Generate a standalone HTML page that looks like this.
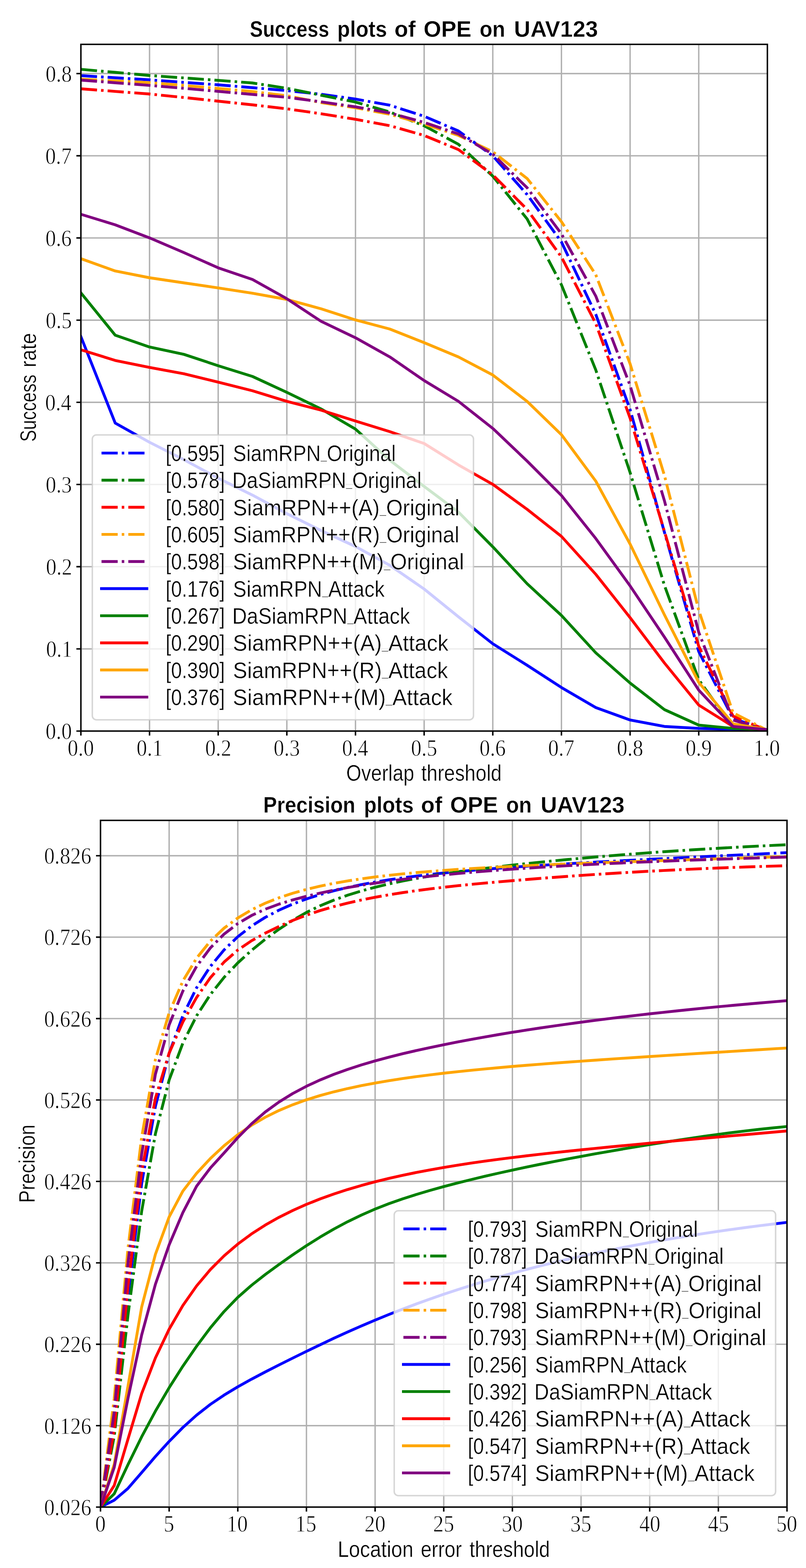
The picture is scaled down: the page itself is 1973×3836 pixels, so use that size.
<!DOCTYPE html>
<html><head><meta charset="utf-8"><title>Success and Precision plots of OPE on UAV123</title><style>html,body{margin:0;padding:0;background:#fff;overflow:hidden}svg{display:block}</style></head>
<body>
<svg width="1973" height="3836" viewBox="0 0 1973 3836">
<rect x="0" y="0" width="1973" height="3836" fill="#ffffff"/>
<defs>
<clipPath id="c0"><rect x="198" y="108.5" width="1680.5" height="1680.0"/></clipPath>
<clipPath id="c1"><rect x="246" y="2007" width="1680.5" height="1680"/></clipPath>
</defs>
<path d="M198 108.5V1788.5M366.05 108.5V1788.5M534.1 108.5V1788.5M702.15 108.5V1788.5M870.2 108.5V1788.5M1038.25 108.5V1788.5M1206.3 108.5V1788.5M1374.35 108.5V1788.5M1542.4 108.5V1788.5M1710.45 108.5V1788.5M1878.5 108.5V1788.5M198 1788.5H1878.5M198 1587.44H1878.5M198 1386.38H1878.5M198 1185.32H1878.5M198 984.26H1878.5M198 783.2H1878.5M198 582.14H1878.5M198 381.08H1878.5M198 180.02H1878.5" stroke="#b0b0b0" stroke-width="3.4" fill="none" clip-path="url(#c0)"/>
<g clip-path="url(#c0)" fill="none" stroke-width="6.9" stroke-linejoin="round">
<polyline points="198,185 282.02,190.2 366.05,195.3 450.07,201.5 534.1,207.5 618.12,214.5 702.15,221.7 786.17,230.5 870.2,242.4 954.23,257.4 1038.25,284.5 1122.28,320.5 1206.3,381.3 1290.33,476 1374.35,592 1458.38,769 1542.4,1002 1626.42,1302 1710.45,1594 1794.47,1758 1878.5,1786" stroke="#0000ff" stroke-dasharray="39.6 9.9 6.2 9.9" stroke-linecap="butt"/>
<polyline points="198,169.6 282.02,177 366.05,184.7 450.07,190.6 534.1,196.6 618.12,203 702.15,216 786.17,233 870.2,249.7 954.23,274 1038.25,307.8 1122.28,353 1206.3,431 1290.33,535.7 1374.35,696.8 1458.38,905 1542.4,1156 1626.42,1432 1710.45,1663 1794.47,1780 1878.5,1787" stroke="#008000" stroke-dasharray="39.6 9.9 6.2 9.9" stroke-linecap="butt"/>
<polyline points="198,217.2 282.02,223.6 366.05,230 450.07,238.5 534.1,247.5 618.12,256.5 702.15,266.2 786.17,278.3 870.2,291.9 954.23,307.5 1038.25,331.4 1122.28,366 1206.3,427.8 1290.33,512.5 1374.35,628.7 1458.38,791.5 1542.4,1023 1626.42,1300 1710.45,1581 1794.47,1752 1878.5,1787" stroke="#ff0000" stroke-dasharray="39.6 9.9 6.2 9.9" stroke-linecap="butt"/>
<polyline points="198,193.8 282.02,198 366.05,202.1 450.07,209 534.1,216.5 618.12,224 702.15,234.2 786.17,251 870.2,263.7 954.23,279.6 1038.25,303.5 1122.28,331.3 1206.3,371.3 1290.33,436.7 1374.35,542.3 1458.38,672.1 1542.4,890 1626.42,1163 1710.45,1493 1794.47,1743.9 1878.5,1787" stroke="#ffa500" stroke-dasharray="39.6 9.9 6.2 9.9" stroke-linecap="butt"/>
<polyline points="198,196 282.02,202.5 366.05,208.9 450.07,216 534.1,223.5 618.12,231 702.15,238 786.17,249.1 870.2,261.4 954.23,276.3 1038.25,299.5 1122.28,327.8 1206.3,377.3 1290.33,459.3 1374.35,572.2 1458.38,724.3 1542.4,943 1626.42,1225 1710.45,1547 1794.47,1761.4 1878.5,1787" stroke="#800080" stroke-dasharray="39.6 9.9 6.2 9.9" stroke-linecap="butt"/>
<polyline points="198,823.4 282.02,1035 366.05,1082 450.07,1124.5 534.1,1169.8 618.12,1211.3 702.15,1256.6 786.17,1298 870.2,1337 954.23,1383 1038.25,1441 1122.28,1509 1206.3,1574.9 1290.33,1627.5 1374.35,1681.9 1458.38,1731.1 1542.4,1761.4 1626.42,1777.2 1710.45,1782 1794.47,1784.2 1878.5,1786.1" stroke="#0000ff" stroke-linecap="square"/>
<polyline points="198,716.4 282.02,820 366.05,848.9 450.07,866.9 534.1,894.7 618.12,921 702.15,959.8 786.17,1000.6 870.2,1049.8 954.23,1126 1038.25,1190 1122.28,1252.8 1206.3,1337.7 1290.33,1428 1374.35,1505.6 1458.38,1597 1542.4,1671 1626.42,1736 1710.45,1774 1794.47,1782 1878.5,1785" stroke="#008000" stroke-linecap="square"/>
<polyline points="198,855.7 282.02,881.8 366.05,898.8 450.07,914.4 534.1,934.8 618.12,956 702.15,981.9 786.17,1003.5 870.2,1030 954.23,1056 1038.25,1085 1122.28,1137.4 1206.3,1184.9 1290.33,1246 1374.35,1312.3 1458.38,1405 1542.4,1511 1626.42,1621.9 1710.45,1724.9 1794.47,1777.2 1878.5,1785" stroke="#ff0000" stroke-linecap="square"/>
<polyline points="198,632.8 282.02,662.9 366.05,679.5 450.07,692 534.1,704.3 618.12,717.3 702.15,732.5 786.17,755.5 870.2,782.7 954.23,805 1038.25,838.3 1122.28,873.2 1206.3,917.4 1290.33,981.9 1374.35,1063.4 1458.38,1177 1542.4,1331 1626.42,1504 1710.45,1669.4 1794.47,1770.9 1878.5,1785" stroke="#ffa500" stroke-linecap="square"/>
<polyline points="198,524.2 282.02,550 366.05,581.9 450.07,617.9 534.1,655.2 618.12,683.8 702.15,730.8 786.17,786.2 870.2,826.3 954.23,873.2 1038.25,931 1122.28,981.9 1206.3,1048.1 1290.33,1128 1374.35,1212.1 1458.38,1317.4 1542.4,1433.3 1626.42,1558.5 1710.45,1688.4 1794.47,1777.2 1878.5,1785" stroke="#800080" stroke-linecap="square"/>
</g>
<path d="M198 1788.5v11M366.05 1788.5v11M534.1 1788.5v11M702.15 1788.5v11M870.2 1788.5v11M1038.25 1788.5v11M1206.3 1788.5v11M1374.35 1788.5v11M1542.4 1788.5v11M1710.45 1788.5v11M1878.5 1788.5v11M198 1788.5h-11M198 1587.44h-11M198 1386.38h-11M198 1185.32h-11M198 984.26h-11M198 783.2h-11M198 582.14h-11M198 381.08h-11M198 180.02h-11" stroke="#000" stroke-width="3.6" fill="none"/>
<rect x="198" y="108.5" width="1680.5" height="1680" fill="none" stroke="#000" stroke-width="3.5" stroke-linejoin="miter"/>
<path d="M246 2007V3687M414.05 2007V3687M582.1 2007V3687M750.15 2007V3687M918.2 2007V3687M1086.25 2007V3687M1254.3 2007V3687M1422.35 2007V3687M1590.4 2007V3687M1758.45 2007V3687M1926.5 2007V3687M246 3687H1926.5M246 3487.81H1926.5M246 3288.62H1926.5M246 3089.43H1926.5M246 2890.24H1926.5M246 2691.05H1926.5M246 2491.86H1926.5M246 2292.67H1926.5M246 2093.48H1926.5" stroke="#b0b0b0" stroke-width="3.4" fill="none" clip-path="url(#c1)"/>
<g clip-path="url(#c1)" fill="none" stroke-width="6.9" stroke-linejoin="round">
<polyline points="246,3687 279.61,3502.21 313.22,3169.29 346.83,2895.09 380.44,2706.6 414.05,2576.98 447.66,2484.72 481.27,2416.46 514.88,2364.45 548.49,2323.88 582.1,2291.63 615.71,2265.58 649.32,2244.25 682.93,2226.56 716.54,2211.72 750.15,2199.17 783.76,2188.43 817.37,2179.18 850.98,2171.15 884.59,2164.14 918.2,2157.97 951.81,2152.5 985.42,2147.63 1019.03,2143.27 1052.64,2139.32 1086.25,2135.74 1119.86,2132.47 1153.47,2129.45 1187.08,2126.66 1220.69,2124.06 1254.3,2121.63 1287.91,2119.33 1321.52,2117.15 1355.13,2115.08 1388.74,2113.09 1422.35,2111.17 1455.96,2109.31 1489.57,2107.5 1523.18,2105.74 1556.79,2104.01 1590.4,2102.3 1624.01,2100.62 1657.62,2098.96 1691.23,2097.31 1724.84,2095.67 1758.45,2094.03 1792.06,2092.4 1825.67,2090.76 1859.28,2089.13 1892.89,2087.48 1926.5,2085.84" stroke="#0000ff" stroke-dasharray="39.6 9.9 6.2 9.9" stroke-linecap="butt"/>
<polyline points="246,3687 279.61,3513.58 313.22,3217.97 346.83,2962.87 380.44,2773.63 414.05,2642.15 447.66,2551.65 481.27,2485.12 514.88,2433.22 548.49,2391.05 582.1,2355.63 615.71,2325.02 649.32,2297.87 682.93,2273.33 716.54,2251.35 750.15,2232.2 783.76,2215.9 817.37,2201.98 850.98,2190.01 884.59,2179.63 918.2,2170.55 951.81,2162.54 985.42,2155.41 1019.03,2149.02 1052.64,2143.24 1086.25,2137.96 1119.86,2133.09 1153.47,2128.57 1187.08,2124.34 1220.69,2120.34 1254.3,2116.53 1287.91,2112.88 1321.52,2109.38 1355.13,2106.02 1388.74,2102.8 1422.35,2099.71 1455.96,2096.76 1489.57,2093.92 1523.18,2091.21 1556.79,2088.61 1590.4,2086.12 1624.01,2083.74 1657.62,2081.47 1691.23,2079.29 1724.84,2077.21 1758.45,2075.22 1792.06,2073.33 1825.67,2071.52 1859.28,2069.79 1892.89,2068.15 1926.5,2066.58" stroke="#008000" stroke-dasharray="39.6 9.9 6.2 9.9" stroke-linecap="butt"/>
<polyline points="246,3687 279.61,3497.36 313.22,3147.36 346.83,2865.84 380.44,2686.84 414.05,2576.24 447.66,2500.05 481.27,2440.16 514.88,2391.92 548.49,2353.71 582.1,2324.13 615.71,2301.49 649.32,2282.91 682.93,2266.53 716.54,2251.84 750.15,2238.88 783.76,2227.63 817.37,2217.85 850.98,2209.29 884.59,2201.75 918.2,2195.06 951.81,2189.1 985.42,2183.75 1019.03,2178.93 1052.64,2174.56 1086.25,2170.57 1119.86,2166.91 1153.47,2163.52 1187.08,2160.35 1220.69,2157.34 1254.3,2154.47 1287.91,2151.69 1321.52,2149.02 1355.13,2146.45 1388.74,2143.99 1422.35,2141.63 1455.96,2139.37 1489.57,2137.21 1523.18,2135.16 1556.79,2133.21 1590.4,2131.35 1624.01,2129.6 1657.62,2127.94 1691.23,2126.37 1724.84,2124.9 1758.45,2123.51 1792.06,2122.22 1825.67,2121.01 1859.28,2119.88 1892.89,2118.83 1926.5,2117.87" stroke="#ff0000" stroke-dasharray="39.6 9.9 6.2 9.9" stroke-linecap="butt"/>
<polyline points="246,3687 279.61,3421.6 313.22,3055.1 346.83,2782.12 380.44,2591.97 414.05,2477.7 447.66,2399.92 481.27,2343.99 514.88,2302.41 548.49,2270.63 582.1,2245.74 615.71,2225.84 649.32,2209.66 682.93,2196.34 716.54,2185.24 750.15,2175.88 783.76,2167.9 817.37,2161.05 850.98,2155.12 884.59,2149.96 918.2,2145.43 951.81,2141.45 985.42,2137.91 1019.03,2134.75 1052.64,2131.92 1086.25,2129.36 1119.86,2127.03 1153.47,2124.9 1187.08,2122.94 1220.69,2121.13 1254.3,2119.44 1287.91,2117.86 1321.52,2116.36 1355.13,2114.94 1388.74,2113.59 1422.35,2112.29 1455.96,2111.04 1489.57,2109.83 1523.18,2108.65 1556.79,2107.49 1590.4,2106.36 1624.01,2105.24 1657.62,2104.14 1691.23,2103.05 1724.84,2101.96 1758.45,2100.87 1792.06,2099.79 1825.67,2098.71 1859.28,2097.63 1892.89,2096.54 1926.5,2095.44" stroke="#ffa500" stroke-dasharray="39.6 9.9 6.2 9.9" stroke-linecap="butt"/>
<polyline points="246,3687 279.61,3453.47 313.22,3089.79 346.83,2823.72 380.44,2627.99 414.05,2507.29 447.66,2424.5 481.27,2364.1 514.88,2319.13 548.49,2285.2 582.1,2259.41 615.71,2239.69 649.32,2224.28 682.93,2211.87 716.54,2201.55 750.15,2192.68 783.76,2184.83 817.37,2177.79 850.98,2171.45 884.59,2165.72 918.2,2160.51 951.81,2155.74 985.42,2151.38 1019.03,2147.37 1052.64,2143.66 1086.25,2140.23 1119.86,2137.05 1153.47,2134.09 1187.08,2131.32 1220.69,2128.73 1254.3,2126.3 1287.91,2124.02 1321.52,2121.87 1355.13,2119.85 1388.74,2117.93 1422.35,2116.11 1455.96,2114.39 1489.57,2112.75 1523.18,2111.19 1556.79,2109.71 1590.4,2108.29 1624.01,2106.93 1657.62,2105.63 1691.23,2104.39 1724.84,2103.19 1758.45,2102.04 1792.06,2100.93 1825.67,2099.86 1859.28,2098.83 1892.89,2097.84 1926.5,2096.88" stroke="#800080" stroke-dasharray="39.6 9.9 6.2 9.9" stroke-linecap="butt"/>
<polyline points="246,3687 279.61,3670.19 313.22,3641.36 346.83,3602.39 380.44,3563.25 414.05,3526.3 447.66,3492.28 481.27,3462.03 514.88,3435.75 548.49,3413.05 582.1,3392.8 615.71,3374.1 649.32,3356.39 682.93,3339.27 716.54,3322.51 750.15,3305.98 783.76,3289.77 817.37,3273.98 850.98,3258.66 884.59,3243.86 918.2,3229.6 951.81,3215.88 985.42,3202.71 1019.03,3190.07 1052.64,3177.95 1086.25,3166.31 1119.86,3155.16 1153.47,3144.47 1187.08,3134.21 1220.69,3124.38 1254.3,3114.96 1287.91,3105.92 1321.52,3097.25 1355.13,3088.95 1388.74,3080.98 1422.35,3073.35 1455.96,3066.02 1489.57,3059 1523.18,3052.27 1556.79,3045.82 1590.4,3039.64 1624.01,3033.71 1657.62,3028.03 1691.23,3022.59 1724.84,3017.38 1758.45,3012.39 1792.06,3007.6 1825.67,3003.03 1859.28,2998.65 1892.89,2994.46 1926.5,2990.45" stroke="#0000ff" stroke-linecap="square"/>
<polyline points="246,3687 279.61,3654.42 313.22,3583.26 346.83,3514.99 380.44,3452.27 414.05,3394.89 447.66,3342.17 481.27,3293.46 514.88,3248.58 548.49,3208.56 582.1,3173.94 615.71,3144.36 649.32,3118.03 682.93,3093.47 716.54,3069.86 750.15,3047.39 783.76,3026.31 817.37,3006.76 850.98,2988.83 884.59,2972.54 918.2,2957.88 951.81,2944.77 985.42,2932.96 1019.03,2922.19 1052.64,2912.24 1086.25,2902.93 1119.86,2894.14 1153.47,2885.75 1187.08,2877.71 1220.69,2869.99 1254.3,2862.56 1287.91,2855.41 1321.52,2848.5 1355.13,2841.82 1388.74,2835.35 1422.35,2829.07 1455.96,2822.97 1489.57,2817.04 1523.18,2811.26 1556.79,2805.63 1590.4,2800.14 1624.01,2794.78 1657.62,2789.57 1691.23,2784.55 1724.84,2779.73 1758.45,2775.13 1792.06,2770.77 1825.67,2766.66 1859.28,2762.8 1892.89,2759.22 1926.5,2755.9" stroke="#008000" stroke-linecap="square"/>
<polyline points="246,3687 279.61,3634.13 313.22,3520.92 346.83,3409.19 380.44,3322.1 414.05,3251.71 447.66,3193.78 481.27,3145.87 514.88,3105.98 548.49,3072.32 582.1,3043.56 615.71,3018.72 649.32,2997.08 682.93,2978.1 716.54,2961.32 750.15,2946.38 783.76,2933.01 817.37,2920.97 850.98,2910.09 884.59,2900.2 918.2,2891.19 951.81,2882.95 985.42,2875.39 1019.03,2868.43 1052.64,2862.02 1086.25,2856.09 1119.86,2850.59 1153.47,2845.46 1187.08,2840.66 1220.69,2836.14 1254.3,2831.85 1287.91,2827.77 1321.52,2823.87 1355.13,2820.13 1388.74,2816.51 1422.35,2813.01 1455.96,2809.61 1489.57,2806.3 1523.18,2803.05 1556.79,2799.87 1590.4,2796.74 1624.01,2793.65 1657.62,2790.6 1691.23,2787.58 1724.84,2784.58 1758.45,2781.6 1792.06,2778.64 1825.67,2775.69 1859.28,2772.75 1892.89,2769.81 1926.5,2766.88" stroke="#ff0000" stroke-linecap="square"/>
<polyline points="246,3687 279.61,3582.06 313.22,3391.52 346.83,3197.41 380.44,3068.64 414.05,2977.12 447.66,2913.84 481.27,2870.4 514.88,2834.33 548.49,2802.99 582.1,2775.98 615.71,2752.87 649.32,2733.26 682.93,2716.72 716.54,2702.66 750.15,2690.6 783.76,2680.16 817.37,2671.04 850.98,2663.01 884.59,2655.89 918.2,2649.53 951.81,2643.81 985.42,2638.62 1019.03,2633.9 1052.64,2629.56 1086.25,2625.55 1119.86,2621.83 1153.47,2618.35 1187.08,2615.08 1220.69,2611.99 1254.3,2609.06 1287.91,2606.26 1321.52,2603.58 1355.13,2600.99 1388.74,2598.5 1422.35,2596.08 1455.96,2593.72 1489.57,2591.42 1523.18,2589.16 1556.79,2586.94 1590.4,2584.76 1624.01,2582.61 1657.62,2580.48 1691.23,2578.36 1724.84,2576.27 1758.45,2574.19 1792.06,2572.11 1825.67,2570.05 1859.28,2567.99 1892.89,2565.93 1926.5,2563.87" stroke="#ffa500" stroke-linecap="square"/>
<polyline points="246,3687 279.61,3589.81 313.22,3421.39 346.83,3265.73 380.44,3141.79 414.05,3045.45 447.66,2966.39 481.27,2901.87 514.88,2857.55 548.49,2820.62 582.1,2783.15 615.71,2749.35 649.32,2720.41 682.93,2696 716.54,2675.27 750.15,2657.45 783.76,2641.94 817.37,2628.3 850.98,2616.17 884.59,2605.27 918.2,2595.37 951.81,2586.31 985.42,2577.92 1019.03,2570.11 1052.64,2562.76 1086.25,2555.81 1119.86,2549.18 1153.47,2542.85 1187.08,2536.79 1220.69,2531 1254.3,2525.44 1287.91,2520.11 1321.52,2514.99 1355.13,2510.07 1388.74,2505.33 1422.35,2500.77 1455.96,2496.37 1489.57,2492.13 1523.18,2488.04 1556.79,2484.08 1590.4,2480.26 1624.01,2476.57 1657.62,2472.99 1691.23,2469.53 1724.84,2466.18 1758.45,2462.93 1792.06,2459.77 1825.67,2456.72 1859.28,2453.75 1892.89,2450.87 1926.5,2448.07" stroke="#800080" stroke-linecap="square"/>
</g>
<path d="M246 3687v11M414.05 3687v11M582.1 3687v11M750.15 3687v11M918.2 3687v11M1086.25 3687v11M1254.3 3687v11M1422.35 3687v11M1590.4 3687v11M1758.45 3687v11M1926.5 3687v11M246 3687h-11M246 3487.81h-11M246 3288.62h-11M246 3089.43h-11M246 2890.24h-11M246 2691.05h-11M246 2491.86h-11M246 2292.67h-11M246 2093.48h-11" stroke="#000" stroke-width="3.6" fill="none"/>
<rect x="246" y="2007" width="1680.5" height="1680" fill="none" stroke="#000" stroke-width="3.5" stroke-linejoin="miter"/>
<g fill="#000">
<text x="111.56" y="1808" font-family="'Liberation Serif', 'Times New Roman', serif" font-size="56.4" stroke="#fff" stroke-width="1.0" textLength="64.37" lengthAdjust="spacingAndGlyphs">0.0</text>
<text x="112.72" y="1606.94" font-family="'Liberation Serif', 'Times New Roman', serif" font-size="56.4" stroke="#fff" stroke-width="1.0" textLength="64.37" lengthAdjust="spacingAndGlyphs">0.1</text>
<text x="112.47" y="1405.88" font-family="'Liberation Serif', 'Times New Roman', serif" font-size="56.4" stroke="#fff" stroke-width="1.0" textLength="64.37" lengthAdjust="spacingAndGlyphs">0.2</text>
<text x="111.69" y="1204.82" font-family="'Liberation Serif', 'Times New Roman', serif" font-size="56.4" stroke="#fff" stroke-width="1.0" textLength="64.37" lengthAdjust="spacingAndGlyphs">0.3</text>
<text x="110.41" y="1003.76" font-family="'Liberation Serif', 'Times New Roman', serif" font-size="56.4" stroke="#fff" stroke-width="1.0" textLength="64.37" lengthAdjust="spacingAndGlyphs">0.4</text>
<text x="111.69" y="802.7" font-family="'Liberation Serif', 'Times New Roman', serif" font-size="56.4" stroke="#fff" stroke-width="1.0" textLength="64.37" lengthAdjust="spacingAndGlyphs">0.5</text>
<text x="111.18" y="601.64" font-family="'Liberation Serif', 'Times New Roman', serif" font-size="56.4" stroke="#fff" stroke-width="1.0" textLength="64.37" lengthAdjust="spacingAndGlyphs">0.6</text>
<text x="111.05" y="400.58" font-family="'Liberation Serif', 'Times New Roman', serif" font-size="56.4" stroke="#fff" stroke-width="1.0" textLength="64.37" lengthAdjust="spacingAndGlyphs">0.7</text>
<text x="111.56" y="199.52" font-family="'Liberation Serif', 'Times New Roman', serif" font-size="56.4" stroke="#fff" stroke-width="1.0" textLength="64.37" lengthAdjust="spacingAndGlyphs">0.8</text>
<text x="165.62" y="1849" font-family="'Liberation Serif', 'Times New Roman', serif" font-size="56.4" stroke="#fff" stroke-width="1.0" textLength="64.37" lengthAdjust="spacingAndGlyphs">0.0</text>
<text x="334.25" y="1849" font-family="'Liberation Serif', 'Times New Roman', serif" font-size="56.4" stroke="#fff" stroke-width="1.0" textLength="64.37" lengthAdjust="spacingAndGlyphs">0.1</text>
<text x="502.17" y="1849" font-family="'Liberation Serif', 'Times New Roman', serif" font-size="56.4" stroke="#fff" stroke-width="1.0" textLength="64.37" lengthAdjust="spacingAndGlyphs">0.2</text>
<text x="669.83" y="1849" font-family="'Liberation Serif', 'Times New Roman', serif" font-size="56.4" stroke="#fff" stroke-width="1.0" textLength="64.37" lengthAdjust="spacingAndGlyphs">0.3</text>
<text x="837.24" y="1849" font-family="'Liberation Serif', 'Times New Roman', serif" font-size="56.4" stroke="#fff" stroke-width="1.0" textLength="64.37" lengthAdjust="spacingAndGlyphs">0.4</text>
<text x="1005.93" y="1849" font-family="'Liberation Serif', 'Times New Roman', serif" font-size="56.4" stroke="#fff" stroke-width="1.0" textLength="64.37" lengthAdjust="spacingAndGlyphs">0.5</text>
<text x="1173.72" y="1849" font-family="'Liberation Serif', 'Times New Roman', serif" font-size="56.4" stroke="#fff" stroke-width="1.0" textLength="64.37" lengthAdjust="spacingAndGlyphs">0.6</text>
<text x="1341.71" y="1849" font-family="'Liberation Serif', 'Times New Roman', serif" font-size="56.4" stroke="#fff" stroke-width="1.0" textLength="64.37" lengthAdjust="spacingAndGlyphs">0.7</text>
<text x="1510.02" y="1849" font-family="'Liberation Serif', 'Times New Roman', serif" font-size="56.4" stroke="#fff" stroke-width="1.0" textLength="64.37" lengthAdjust="spacingAndGlyphs">0.8</text>
<text x="1678.13" y="1849" font-family="'Liberation Serif', 'Times New Roman', serif" font-size="56.4" stroke="#fff" stroke-width="1.0" textLength="64.37" lengthAdjust="spacingAndGlyphs">0.9</text>
<text x="1844.83" y="1849" font-family="'Liberation Serif', 'Times New Roman', serif" font-size="56.4" stroke="#fff" stroke-width="1.0" textLength="64.37" lengthAdjust="spacingAndGlyphs">1.0</text>
<text x="107.89" y="3706.7" font-family="'Liberation Serif', 'Times New Roman', serif" font-size="56.4" stroke="#fff" stroke-width="1.0" textLength="115.86" lengthAdjust="spacingAndGlyphs">0.026</text>
<text x="107.89" y="3507.51" font-family="'Liberation Serif', 'Times New Roman', serif" font-size="56.4" stroke="#fff" stroke-width="1.0" textLength="115.86" lengthAdjust="spacingAndGlyphs">0.126</text>
<text x="107.89" y="3308.32" font-family="'Liberation Serif', 'Times New Roman', serif" font-size="56.4" stroke="#fff" stroke-width="1.0" textLength="115.86" lengthAdjust="spacingAndGlyphs">0.226</text>
<text x="107.89" y="3109.13" font-family="'Liberation Serif', 'Times New Roman', serif" font-size="56.4" stroke="#fff" stroke-width="1.0" textLength="115.86" lengthAdjust="spacingAndGlyphs">0.326</text>
<text x="107.89" y="2909.94" font-family="'Liberation Serif', 'Times New Roman', serif" font-size="56.4" stroke="#fff" stroke-width="1.0" textLength="115.86" lengthAdjust="spacingAndGlyphs">0.426</text>
<text x="107.89" y="2710.75" font-family="'Liberation Serif', 'Times New Roman', serif" font-size="56.4" stroke="#fff" stroke-width="1.0" textLength="115.86" lengthAdjust="spacingAndGlyphs">0.526</text>
<text x="107.89" y="2511.56" font-family="'Liberation Serif', 'Times New Roman', serif" font-size="56.4" stroke="#fff" stroke-width="1.0" textLength="115.86" lengthAdjust="spacingAndGlyphs">0.626</text>
<text x="107.89" y="2312.37" font-family="'Liberation Serif', 'Times New Roman', serif" font-size="56.4" stroke="#fff" stroke-width="1.0" textLength="115.86" lengthAdjust="spacingAndGlyphs">0.726</text>
<text x="107.89" y="2113.18" font-family="'Liberation Serif', 'Times New Roman', serif" font-size="56.4" stroke="#fff" stroke-width="1.0" textLength="115.86" lengthAdjust="spacingAndGlyphs">0.826</text>
<text x="233.03" y="3746.8" font-family="'Liberation Serif', 'Times New Roman', serif" font-size="56.4" stroke="#fff" stroke-width="1.0" textLength="25.75" lengthAdjust="spacingAndGlyphs">0</text>
<text x="400.63" y="3746.8" font-family="'Liberation Serif', 'Times New Roman', serif" font-size="56.4" stroke="#fff" stroke-width="1.0" textLength="25.75" lengthAdjust="spacingAndGlyphs">5</text>
<text x="554.97" y="3746.8" font-family="'Liberation Serif', 'Times New Roman', serif" font-size="56.4" stroke="#fff" stroke-width="1.0" textLength="51.49" lengthAdjust="spacingAndGlyphs">10</text>
<text x="723.08" y="3746.8" font-family="'Liberation Serif', 'Times New Roman', serif" font-size="56.4" stroke="#fff" stroke-width="1.0" textLength="51.49" lengthAdjust="spacingAndGlyphs">15</text>
<text x="892.22" y="3746.8" font-family="'Liberation Serif', 'Times New Roman', serif" font-size="56.4" stroke="#fff" stroke-width="1.0" textLength="51.49" lengthAdjust="spacingAndGlyphs">20</text>
<text x="1060.34" y="3746.8" font-family="'Liberation Serif', 'Times New Roman', serif" font-size="56.4" stroke="#fff" stroke-width="1.0" textLength="51.49" lengthAdjust="spacingAndGlyphs">25</text>
<text x="1228.2" y="3746.8" font-family="'Liberation Serif', 'Times New Roman', serif" font-size="56.4" stroke="#fff" stroke-width="1.0" textLength="51.49" lengthAdjust="spacingAndGlyphs">30</text>
<text x="1396.31" y="3746.8" font-family="'Liberation Serif', 'Times New Roman', serif" font-size="56.4" stroke="#fff" stroke-width="1.0" textLength="51.49" lengthAdjust="spacingAndGlyphs">35</text>
<text x="1565" y="3746.8" font-family="'Liberation Serif', 'Times New Roman', serif" font-size="56.4" stroke="#fff" stroke-width="1.0" textLength="51.49" lengthAdjust="spacingAndGlyphs">40</text>
<text x="1733.12" y="3746.8" font-family="'Liberation Serif', 'Times New Roman', serif" font-size="56.4" stroke="#fff" stroke-width="1.0" textLength="51.49" lengthAdjust="spacingAndGlyphs">45</text>
<text x="1900.14" y="3746.8" font-family="'Liberation Serif', 'Times New Roman', serif" font-size="56.4" stroke="#fff" stroke-width="1.0" textLength="51.49" lengthAdjust="spacingAndGlyphs">50</text>
<text x="611.56" y="90" font-family="'Liberation Sans', Arial, sans-serif" font-size="55.5" font-weight="bold" stroke="#fff" stroke-width="0.5" textLength="194.31" lengthAdjust="spacingAndGlyphs">Success</text>
<text x="825.59" y="90" font-family="'Liberation Sans', Arial, sans-serif" font-size="55.5" font-weight="bold" stroke="#fff" stroke-width="0.5" textLength="121.82" lengthAdjust="spacingAndGlyphs">plots</text>
<text x="965.5" y="90" font-family="'Liberation Sans', Arial, sans-serif" font-size="55.5" font-weight="bold" stroke="#fff" stroke-width="0.5" textLength="51.94" lengthAdjust="spacingAndGlyphs">of</text>
<text x="1036.68" y="90" font-family="'Liberation Sans', Arial, sans-serif" font-size="55.5" font-weight="bold" stroke="#fff" stroke-width="0.5" textLength="117.41" lengthAdjust="spacingAndGlyphs">OPE</text>
<text x="1173.95" y="90" font-family="'Liberation Sans', Arial, sans-serif" font-size="55.5" font-weight="bold" stroke="#fff" stroke-width="0.5" textLength="62.61" lengthAdjust="spacingAndGlyphs">on</text>
<text x="1258.37" y="90" font-family="'Liberation Sans', Arial, sans-serif" font-size="55.5" font-weight="bold" stroke="#fff" stroke-width="0.5" textLength="205.51" lengthAdjust="spacingAndGlyphs">UAV123</text>
<text x="644.52" y="1987.6" font-family="'Liberation Sans', Arial, sans-serif" font-size="55.5" font-weight="bold" stroke="#fff" stroke-width="0.5" textLength="225.36" lengthAdjust="spacingAndGlyphs">Precision</text>
<text x="890.69" y="1987.6" font-family="'Liberation Sans', Arial, sans-serif" font-size="55.5" font-weight="bold" stroke="#fff" stroke-width="0.5" textLength="121.82" lengthAdjust="spacingAndGlyphs">plots</text>
<text x="1030.6" y="1987.6" font-family="'Liberation Sans', Arial, sans-serif" font-size="55.5" font-weight="bold" stroke="#fff" stroke-width="0.5" textLength="51.94" lengthAdjust="spacingAndGlyphs">of</text>
<text x="1101.78" y="1987.6" font-family="'Liberation Sans', Arial, sans-serif" font-size="55.5" font-weight="bold" stroke="#fff" stroke-width="0.5" textLength="117.41" lengthAdjust="spacingAndGlyphs">OPE</text>
<text x="1239.05" y="1987.6" font-family="'Liberation Sans', Arial, sans-serif" font-size="55.5" font-weight="bold" stroke="#fff" stroke-width="0.5" textLength="62.61" lengthAdjust="spacingAndGlyphs">on</text>
<text x="1323.47" y="1987.6" font-family="'Liberation Sans', Arial, sans-serif" font-size="55.5" font-weight="bold" stroke="#fff" stroke-width="0.5" textLength="205.51" lengthAdjust="spacingAndGlyphs">UAV123</text>
<text x="847.54" y="1909.8" font-family="'Liberation Sans', Arial, sans-serif" font-size="55" stroke="#fff" stroke-width="0.6" textLength="166.54" lengthAdjust="spacingAndGlyphs">Overlap</text>
<text x="1031.18" y="1909.8" font-family="'Liberation Sans', Arial, sans-serif" font-size="55" stroke="#fff" stroke-width="0.6" textLength="196.98" lengthAdjust="spacingAndGlyphs">threshold</text>
<text x="826.86" y="3808.8" font-family="'Liberation Sans', Arial, sans-serif" font-size="55" stroke="#fff" stroke-width="0.6" textLength="185.25" lengthAdjust="spacingAndGlyphs">Location</text>
<text x="1030.07" y="3808.8" font-family="'Liberation Sans', Arial, sans-serif" font-size="55" stroke="#fff" stroke-width="0.6" textLength="100.6" lengthAdjust="spacingAndGlyphs">error</text>
<text x="1149.28" y="3808.8" font-family="'Liberation Sans', Arial, sans-serif" font-size="55" stroke="#fff" stroke-width="0.6" textLength="196.88" lengthAdjust="spacingAndGlyphs">threshold</text>
<text transform="translate(88,1078.8) rotate(-90)" x="-1.96" y="0" font-family="'Liberation Sans', Arial, sans-serif" font-size="55" stroke="#fff" stroke-width="0.6" textLength="164.35" lengthAdjust="spacingAndGlyphs">Success</text>
<text transform="translate(88,895.5) rotate(-90)" x="-3.17" y="0" font-family="'Liberation Sans', Arial, sans-serif" font-size="55" stroke="#fff" stroke-width="0.6" textLength="83.97" lengthAdjust="spacingAndGlyphs">rate</text>
<text transform="translate(84.9,2938.8) rotate(-90)" x="-3.84" y="0" font-family="'Liberation Sans', Arial, sans-serif" font-size="55" stroke="#fff" stroke-width="0.6" textLength="191.57" lengthAdjust="spacingAndGlyphs">Precision</text>
</g>
<rect x="226" y="1064" width="933" height="697" rx="10" ry="10" fill="#ffffff" fill-opacity="0.8" stroke="#cccccc" stroke-opacity="0.8" stroke-width="3.6"/>
<line x1="248.5" y1="1108.4" x2="359.5" y2="1108.4" stroke="#0000ff" stroke-width="6.9" stroke-dasharray="39.6 9.9 6.2 9.9" stroke-linecap="butt"/>
<text x="405.58" y="1128" font-family="'Liberation Sans', Arial, sans-serif" font-size="55" stroke="#fff" stroke-width="0.6" textLength="144.97" lengthAdjust="spacingAndGlyphs">[0.595]</text>
<text x="570.3" y="1128" font-family="'Liberation Sans', Arial, sans-serif" font-size="55" stroke="#fff" stroke-width="0.6" textLength="398.53" lengthAdjust="spacingAndGlyphs">SiamRPN<tspan font-size="30" dy="-4.6">_</tspan><tspan dy="4.6">Original</tspan></text>
<line x1="248.5" y1="1174.73" x2="359.5" y2="1174.73" stroke="#008000" stroke-width="6.9" stroke-dasharray="39.6 9.9 6.2 9.9" stroke-linecap="butt"/>
<text x="405.58" y="1194.33" font-family="'Liberation Sans', Arial, sans-serif" font-size="55" stroke="#fff" stroke-width="0.6" textLength="144.97" lengthAdjust="spacingAndGlyphs">[0.578]</text>
<text x="568.44" y="1194.33" font-family="'Liberation Sans', Arial, sans-serif" font-size="55" stroke="#fff" stroke-width="0.6" textLength="463.4" lengthAdjust="spacingAndGlyphs">DaSiamRPN<tspan font-size="30" dy="-4.6">_</tspan><tspan dy="4.6">Original</tspan></text>
<line x1="248.5" y1="1241.06" x2="359.5" y2="1241.06" stroke="#ff0000" stroke-width="6.9" stroke-dasharray="39.6 9.9 6.2 9.9" stroke-linecap="butt"/>
<text x="405.58" y="1260.66" font-family="'Liberation Sans', Arial, sans-serif" font-size="55" stroke="#fff" stroke-width="0.6" textLength="144.97" lengthAdjust="spacingAndGlyphs">[0.580]</text>
<text x="570.15" y="1260.66" font-family="'Liberation Sans', Arial, sans-serif" font-size="55" stroke="#fff" stroke-width="0.6" textLength="554.78" lengthAdjust="spacingAndGlyphs">SiamRPN++(A)<tspan font-size="30" dy="-4.6">_</tspan><tspan dy="4.6">Original</tspan></text>
<line x1="248.5" y1="1307.39" x2="359.5" y2="1307.39" stroke="#ffa500" stroke-width="6.9" stroke-dasharray="39.6 9.9 6.2 9.9" stroke-linecap="butt"/>
<text x="405.58" y="1326.99" font-family="'Liberation Sans', Arial, sans-serif" font-size="55" stroke="#fff" stroke-width="0.6" textLength="144.97" lengthAdjust="spacingAndGlyphs">[0.605]</text>
<text x="570.17" y="1326.99" font-family="'Liberation Sans', Arial, sans-serif" font-size="55" stroke="#fff" stroke-width="0.6" textLength="554.15" lengthAdjust="spacingAndGlyphs">SiamRPN++(R)<tspan font-size="30" dy="-4.6">_</tspan><tspan dy="4.6">Original</tspan></text>
<line x1="248.5" y1="1373.72" x2="359.5" y2="1373.72" stroke="#800080" stroke-width="6.9" stroke-dasharray="39.6 9.9 6.2 9.9" stroke-linecap="butt"/>
<text x="405.58" y="1393.32" font-family="'Liberation Sans', Arial, sans-serif" font-size="55" stroke="#fff" stroke-width="0.6" textLength="144.97" lengthAdjust="spacingAndGlyphs">[0.598]</text>
<text x="570.14" y="1393.32" font-family="'Liberation Sans', Arial, sans-serif" font-size="55" stroke="#fff" stroke-width="0.6" textLength="565.81" lengthAdjust="spacingAndGlyphs">SiamRPN++(M)<tspan font-size="30" dy="-4.6">_</tspan><tspan dy="4.6">Original</tspan></text>
<line x1="248.5" y1="1440.05" x2="359.5" y2="1440.05" stroke="#0000ff" stroke-width="6.9" stroke-linecap="square"/>
<text x="405.58" y="1459.65" font-family="'Liberation Sans', Arial, sans-serif" font-size="55" stroke="#fff" stroke-width="0.6" textLength="144.97" lengthAdjust="spacingAndGlyphs">[0.176]</text>
<text x="570.26" y="1459.65" font-family="'Liberation Sans', Arial, sans-serif" font-size="55" stroke="#fff" stroke-width="0.6" textLength="371.38" lengthAdjust="spacingAndGlyphs">SiamRPN<tspan font-size="30" dy="-4.6">_</tspan><tspan dy="4.6">Attack</tspan></text>
<line x1="248.5" y1="1506.38" x2="359.5" y2="1506.38" stroke="#008000" stroke-width="6.9" stroke-linecap="square"/>
<text x="405.58" y="1525.98" font-family="'Liberation Sans', Arial, sans-serif" font-size="55" stroke="#fff" stroke-width="0.6" textLength="144.97" lengthAdjust="spacingAndGlyphs">[0.267]</text>
<text x="568.4" y="1525.98" font-family="'Liberation Sans', Arial, sans-serif" font-size="55" stroke="#fff" stroke-width="0.6" textLength="435.15" lengthAdjust="spacingAndGlyphs">DaSiamRPN<tspan font-size="30" dy="-4.6">_</tspan><tspan dy="4.6">Attack</tspan></text>
<line x1="248.5" y1="1572.71" x2="359.5" y2="1572.71" stroke="#ff0000" stroke-width="6.9" stroke-linecap="square"/>
<text x="405.58" y="1592.31" font-family="'Liberation Sans', Arial, sans-serif" font-size="55" stroke="#fff" stroke-width="0.6" textLength="144.97" lengthAdjust="spacingAndGlyphs">[0.290]</text>
<text x="570.12" y="1592.31" font-family="'Liberation Sans', Arial, sans-serif" font-size="55" stroke="#fff" stroke-width="0.6" textLength="527.52" lengthAdjust="spacingAndGlyphs">SiamRPN++(A)<tspan font-size="30" dy="-4.6">_</tspan><tspan dy="4.6">Attack</tspan></text>
<line x1="248.5" y1="1639.04" x2="359.5" y2="1639.04" stroke="#ffa500" stroke-width="6.9" stroke-linecap="square"/>
<text x="405.58" y="1658.64" font-family="'Liberation Sans', Arial, sans-serif" font-size="55" stroke="#fff" stroke-width="0.6" textLength="144.97" lengthAdjust="spacingAndGlyphs">[0.390]</text>
<text x="570.14" y="1658.64" font-family="'Liberation Sans', Arial, sans-serif" font-size="55" stroke="#fff" stroke-width="0.6" textLength="526.4" lengthAdjust="spacingAndGlyphs">SiamRPN++(R)<tspan font-size="30" dy="-4.6">_</tspan><tspan dy="4.6">Attack</tspan></text>
<line x1="248.5" y1="1705.37" x2="359.5" y2="1705.37" stroke="#800080" stroke-width="6.9" stroke-linecap="square"/>
<text x="405.58" y="1724.97" font-family="'Liberation Sans', Arial, sans-serif" font-size="55" stroke="#fff" stroke-width="0.6" textLength="144.97" lengthAdjust="spacingAndGlyphs">[0.376]</text>
<text x="570.11" y="1724.97" font-family="'Liberation Sans', Arial, sans-serif" font-size="55" stroke="#fff" stroke-width="0.6" textLength="537.63" lengthAdjust="spacingAndGlyphs">SiamRPN++(M)<tspan font-size="30" dy="-4.6">_</tspan><tspan dy="4.6">Attack</tspan></text>
<rect x="965" y="2962" width="933.6" height="697" rx="10" ry="10" fill="#ffffff" fill-opacity="0.8" stroke="#cccccc" stroke-opacity="0.8" stroke-width="3.6"/>
<line x1="987.5" y1="3006.4" x2="1098.5" y2="3006.4" stroke="#0000ff" stroke-width="6.9" stroke-dasharray="39.6 9.9 6.2 9.9" stroke-linecap="butt"/>
<text x="1145.18" y="3026" font-family="'Liberation Sans', Arial, sans-serif" font-size="55" stroke="#fff" stroke-width="0.6" textLength="144.97" lengthAdjust="spacingAndGlyphs">[0.793]</text>
<text x="1309.9" y="3026" font-family="'Liberation Sans', Arial, sans-serif" font-size="55" stroke="#fff" stroke-width="0.6" textLength="398.53" lengthAdjust="spacingAndGlyphs">SiamRPN<tspan font-size="30" dy="-4.6">_</tspan><tspan dy="4.6">Original</tspan></text>
<line x1="987.5" y1="3072.73" x2="1098.5" y2="3072.73" stroke="#008000" stroke-width="6.9" stroke-dasharray="39.6 9.9 6.2 9.9" stroke-linecap="butt"/>
<text x="1145.18" y="3092.33" font-family="'Liberation Sans', Arial, sans-serif" font-size="55" stroke="#fff" stroke-width="0.6" textLength="144.97" lengthAdjust="spacingAndGlyphs">[0.787]</text>
<text x="1308.04" y="3092.33" font-family="'Liberation Sans', Arial, sans-serif" font-size="55" stroke="#fff" stroke-width="0.6" textLength="463.4" lengthAdjust="spacingAndGlyphs">DaSiamRPN<tspan font-size="30" dy="-4.6">_</tspan><tspan dy="4.6">Original</tspan></text>
<line x1="987.5" y1="3139.06" x2="1098.5" y2="3139.06" stroke="#ff0000" stroke-width="6.9" stroke-dasharray="39.6 9.9 6.2 9.9" stroke-linecap="butt"/>
<text x="1145.18" y="3158.66" font-family="'Liberation Sans', Arial, sans-serif" font-size="55" stroke="#fff" stroke-width="0.6" textLength="144.97" lengthAdjust="spacingAndGlyphs">[0.774]</text>
<text x="1309.75" y="3158.66" font-family="'Liberation Sans', Arial, sans-serif" font-size="55" stroke="#fff" stroke-width="0.6" textLength="554.78" lengthAdjust="spacingAndGlyphs">SiamRPN++(A)<tspan font-size="30" dy="-4.6">_</tspan><tspan dy="4.6">Original</tspan></text>
<line x1="987.5" y1="3205.39" x2="1098.5" y2="3205.39" stroke="#ffa500" stroke-width="6.9" stroke-dasharray="39.6 9.9 6.2 9.9" stroke-linecap="butt"/>
<text x="1145.18" y="3224.99" font-family="'Liberation Sans', Arial, sans-serif" font-size="55" stroke="#fff" stroke-width="0.6" textLength="144.97" lengthAdjust="spacingAndGlyphs">[0.798]</text>
<text x="1309.77" y="3224.99" font-family="'Liberation Sans', Arial, sans-serif" font-size="55" stroke="#fff" stroke-width="0.6" textLength="554.15" lengthAdjust="spacingAndGlyphs">SiamRPN++(R)<tspan font-size="30" dy="-4.6">_</tspan><tspan dy="4.6">Original</tspan></text>
<line x1="987.5" y1="3271.72" x2="1098.5" y2="3271.72" stroke="#800080" stroke-width="6.9" stroke-dasharray="39.6 9.9 6.2 9.9" stroke-linecap="butt"/>
<text x="1145.18" y="3291.32" font-family="'Liberation Sans', Arial, sans-serif" font-size="55" stroke="#fff" stroke-width="0.6" textLength="144.97" lengthAdjust="spacingAndGlyphs">[0.793]</text>
<text x="1309.74" y="3291.32" font-family="'Liberation Sans', Arial, sans-serif" font-size="55" stroke="#fff" stroke-width="0.6" textLength="565.81" lengthAdjust="spacingAndGlyphs">SiamRPN++(M)<tspan font-size="30" dy="-4.6">_</tspan><tspan dy="4.6">Original</tspan></text>
<line x1="987.5" y1="3338.05" x2="1098.5" y2="3338.05" stroke="#0000ff" stroke-width="6.9" stroke-linecap="square"/>
<text x="1145.18" y="3357.65" font-family="'Liberation Sans', Arial, sans-serif" font-size="55" stroke="#fff" stroke-width="0.6" textLength="144.97" lengthAdjust="spacingAndGlyphs">[0.256]</text>
<text x="1309.86" y="3357.65" font-family="'Liberation Sans', Arial, sans-serif" font-size="55" stroke="#fff" stroke-width="0.6" textLength="371.38" lengthAdjust="spacingAndGlyphs">SiamRPN<tspan font-size="30" dy="-4.6">_</tspan><tspan dy="4.6">Attack</tspan></text>
<line x1="987.5" y1="3404.38" x2="1098.5" y2="3404.38" stroke="#008000" stroke-width="6.9" stroke-linecap="square"/>
<text x="1145.18" y="3423.98" font-family="'Liberation Sans', Arial, sans-serif" font-size="55" stroke="#fff" stroke-width="0.6" textLength="144.97" lengthAdjust="spacingAndGlyphs">[0.392]</text>
<text x="1308" y="3423.98" font-family="'Liberation Sans', Arial, sans-serif" font-size="55" stroke="#fff" stroke-width="0.6" textLength="435.15" lengthAdjust="spacingAndGlyphs">DaSiamRPN<tspan font-size="30" dy="-4.6">_</tspan><tspan dy="4.6">Attack</tspan></text>
<line x1="987.5" y1="3470.71" x2="1098.5" y2="3470.71" stroke="#ff0000" stroke-width="6.9" stroke-linecap="square"/>
<text x="1145.18" y="3490.31" font-family="'Liberation Sans', Arial, sans-serif" font-size="55" stroke="#fff" stroke-width="0.6" textLength="144.97" lengthAdjust="spacingAndGlyphs">[0.426]</text>
<text x="1309.72" y="3490.31" font-family="'Liberation Sans', Arial, sans-serif" font-size="55" stroke="#fff" stroke-width="0.6" textLength="527.52" lengthAdjust="spacingAndGlyphs">SiamRPN++(A)<tspan font-size="30" dy="-4.6">_</tspan><tspan dy="4.6">Attack</tspan></text>
<line x1="987.5" y1="3537.04" x2="1098.5" y2="3537.04" stroke="#ffa500" stroke-width="6.9" stroke-linecap="square"/>
<text x="1145.18" y="3556.64" font-family="'Liberation Sans', Arial, sans-serif" font-size="55" stroke="#fff" stroke-width="0.6" textLength="144.97" lengthAdjust="spacingAndGlyphs">[0.547]</text>
<text x="1309.74" y="3556.64" font-family="'Liberation Sans', Arial, sans-serif" font-size="55" stroke="#fff" stroke-width="0.6" textLength="526.4" lengthAdjust="spacingAndGlyphs">SiamRPN++(R)<tspan font-size="30" dy="-4.6">_</tspan><tspan dy="4.6">Attack</tspan></text>
<line x1="987.5" y1="3603.37" x2="1098.5" y2="3603.37" stroke="#800080" stroke-width="6.9" stroke-linecap="square"/>
<text x="1145.18" y="3622.97" font-family="'Liberation Sans', Arial, sans-serif" font-size="55" stroke="#fff" stroke-width="0.6" textLength="144.97" lengthAdjust="spacingAndGlyphs">[0.574]</text>
<text x="1309.71" y="3622.97" font-family="'Liberation Sans', Arial, sans-serif" font-size="55" stroke="#fff" stroke-width="0.6" textLength="537.63" lengthAdjust="spacingAndGlyphs">SiamRPN++(M)<tspan font-size="30" dy="-4.6">_</tspan><tspan dy="4.6">Attack</tspan></text>
</svg>
</body></html>
